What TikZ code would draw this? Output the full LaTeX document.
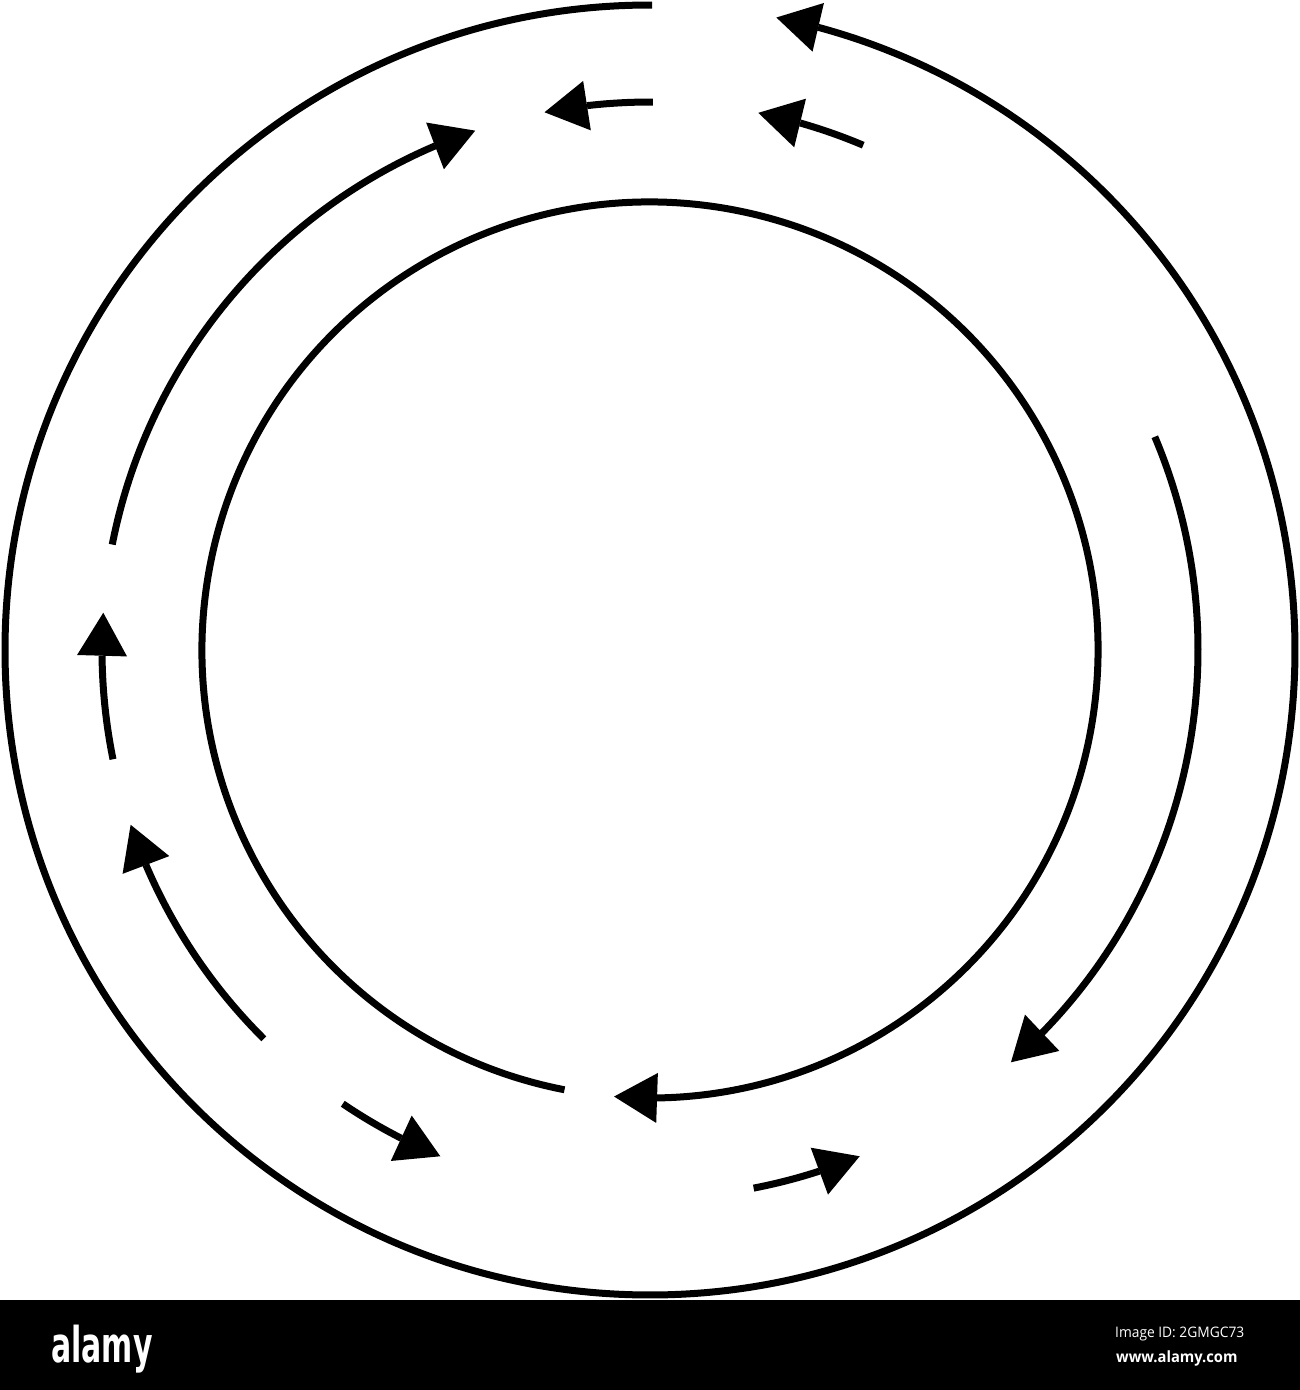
\documentclass[tikz,border=0pt]{standalone}
\usepackage{graphicx}
\usepackage{fontspec}
\setmainfont{Open Sans}
\newfontfamily\logofont{DejaVu Sans}
\usetikzlibrary{arrows.meta,bending}
\begin{document}
\begin{tikzpicture}[x=1pt,y=1pt,
  ring/.style={line width=7pt},
  arr/.style={ring,-{Triangle[length=43pt,width=50pt,line width=0pt]}},
  bannertext/.style={text=white,inner sep=0pt,anchor=base west}]
\useasboundingbox (-650,-740) rectangle (650,650);
\coordinate (c) at (0,0);
% outer ring
\draw[arr] (c) ++(89.8:645) arc[start angle=89.8,end angle=438.7,radius=645];
% inner ring
\draw[arr] (c) ++(259.0:448) arc[start angle=259.0,end angle=-94.6,radius=448];
% middle ring segments
\draw[arr] (c) ++(168.9:548) arc[start angle=168.9,end angle=108.6,radius=548];
\draw[arr] (c) ++(89.7:548) arc[start angle=89.7,end angle=101.1,radius=548];
\draw[arr] (c) ++(67.1:548) arc[start angle=67.1,end angle=78.6,radius=548];
\draw[arr] (c) ++(22.9:548) arc[start angle=22.9,end angle=-48.8,radius=548];
\draw[arr] (c) ++(280.9:548) arc[start angle=280.9,end angle=292.5,radius=548];
\draw[arr] (c) ++(235.9:548) arc[start angle=235.9,end angle=247.5,radius=548];
\draw[arr] (c) ++(225.2:548) arc[start angle=225.2,end angle=198.6,radius=548];
\draw[arr] (c) ++(191.5:548) arc[start angle=191.5,end angle=176.1,radius=548];
% banner
\fill[black] (-650,-650) rectangle (650,-740);
\node[bannertext,font=\logofont\bfseries\fontsize{44}{44}\selectfont] (logo) at (-599,-712) {\scalebox{0.68}[1.12]{alamy}};
\node[bannertext,font=\fontsize{14.5}{15}\selectfont] (imgid) at (465,-687) {\scalebox{0.95}[1]{Image ID: 2GMGC73}};
\node[bannertext,font=\bfseries\fontsize{15.5}{16}\selectfont] (url) at (466,-712) {\scalebox{0.95}[1]{www.alamy.com}};
\end{tikzpicture}
\end{document}
